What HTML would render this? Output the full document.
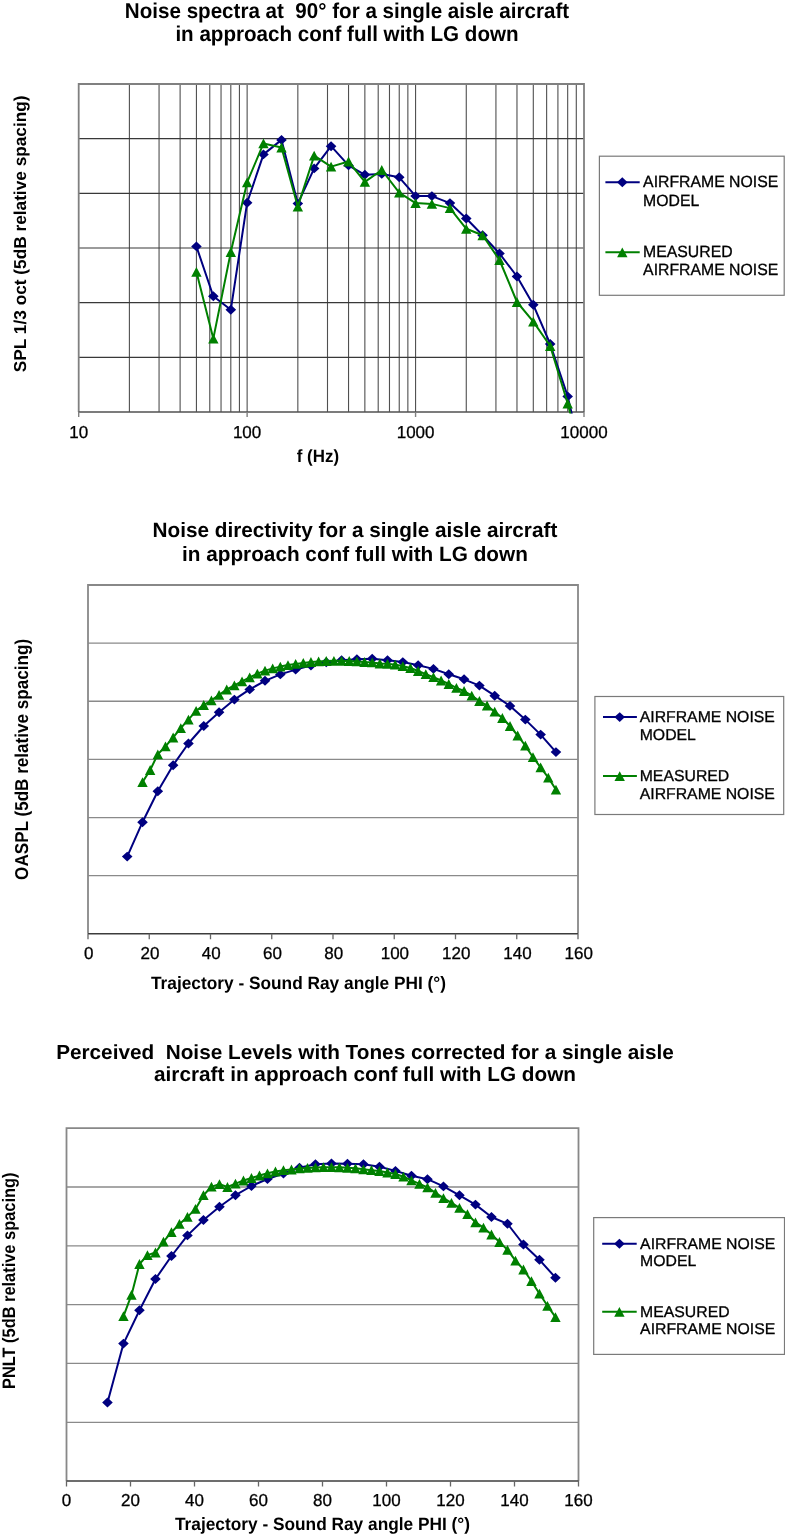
<!DOCTYPE html>
<html><head><meta charset="utf-8"><title>Airframe noise charts</title>
<style>
html,body{margin:0;padding:0;background:#fff;}
body{width:785px;height:1536px;overflow:hidden;}
svg{display:block;} text{text-rendering:geometricPrecision;}
</style></head><body>
<svg width="785" height="1536" viewBox="0 0 785 1536">
<rect width="785" height="1536" fill="#fff"/>
<text transform="translate(347.0 18.0) scale(1 1.045)" font-family="Liberation Sans, Arial, sans-serif" font-weight="bold" font-size="20.6" fill="#000" text-anchor="middle" xml:space="preserve">Noise spectra at  90° for a single aisle aircraft</text><text transform="translate(347.0 41.3) scale(1 1.045)" font-family="Liberation Sans, Arial, sans-serif" font-weight="bold" font-size="20.6" fill="#000" text-anchor="middle" xml:space="preserve">in approach conf full with LG down</text>
<clipPath id="cp1"><rect x="78.7" y="84.0" width="505.3" height="329.6"/></clipPath>
<path d="M129.40 84.0V412.0M159.06 84.0V412.0M180.11 84.0V412.0M196.43 84.0V412.0M209.77 84.0V412.0M221.04 84.0V412.0M230.81 84.0V412.0M239.43 84.0V412.0M247.13 84.0V412.0M297.84 84.0V412.0M327.50 84.0V412.0M348.54 84.0V412.0M364.86 84.0V412.0M378.20 84.0V412.0M389.48 84.0V412.0M399.24 84.0V412.0M407.86 84.0V412.0M415.57 84.0V412.0M466.27 84.0V412.0M495.93 84.0V412.0M516.97 84.0V412.0M533.30 84.0V412.0M546.63 84.0V412.0M557.91 84.0V412.0M567.68 84.0V412.0M576.29 84.0V412.0" stroke="#505050" stroke-width="1.1" fill="none"/>
<path d="M78.7 138.67H584.0M78.7 193.33H584.0M78.7 248.00H584.0M78.7 302.67H584.0M78.7 357.33H584.0" stroke="#383838" stroke-width="1.1" fill="none"/>
<path d="M78.7 412.0V84.0H584.0V412.0" stroke="#808080" stroke-width="1.8" fill="none"/>
<path d="M78.7 412.0H584.0" stroke="#505050" stroke-width="1.6" fill="none"/>
<path d="M78.70 412.0v5M247.13 412.0v5M415.57 412.0v5M584.00 412.0v5" stroke="#808080" stroke-width="1.4" fill="none"/>
<text transform="translate(78.7 438) scale(1 1.02)" font-family="Liberation Sans, Arial, sans-serif" font-size="17.0" fill="#000" text-anchor="middle" stroke="#000" stroke-width="0.3" xml:space="preserve">10</text>
<text transform="translate(247.1 438) scale(1 1.02)" font-family="Liberation Sans, Arial, sans-serif" font-size="17.0" fill="#000" text-anchor="middle" stroke="#000" stroke-width="0.3" xml:space="preserve">100</text>
<text transform="translate(415.6 438) scale(1 1.02)" font-family="Liberation Sans, Arial, sans-serif" font-size="17.0" fill="#000" text-anchor="middle" stroke="#000" stroke-width="0.3" xml:space="preserve">1000</text>
<text transform="translate(584.0 438) scale(1 1.02)" font-family="Liberation Sans, Arial, sans-serif" font-size="17.0" fill="#000" text-anchor="middle" stroke="#000" stroke-width="0.3" xml:space="preserve">10000</text>
<text transform="translate(317.9 462.1) scale(1 1.045)" font-family="Liberation Sans, Arial, sans-serif" font-weight="bold" font-size="16.9" fill="#000" text-anchor="middle" xml:space="preserve">f (Hz)</text>
<text transform="translate(26 233.8) rotate(-90) scale(1 1.0)" font-family="Liberation Sans, Arial, sans-serif" font-weight="bold" font-size="17.25" fill="#000" text-anchor="middle" xml:space="preserve">SPL 1/3 oct (5dB relative spacing)</text>
<path d="M196.4 246.4 L213.3 296.3 L230.8 309.8 L247.1 202.8 L263.5 154.4 L281.5 139.9 L297.8 203.6 L314.2 168.4 L331.1 146.2 L348.5 165.4 L364.9 174.8 L381.8 173.9 L399.2 177.3 L415.6 196.1 L431.9 196.1 L449.9 203.1 L466.3 218.5 L482.6 235.3 L499.5 253.5 L517.0 276.5 L533.3 304.8 L550.2 344.0 L567.7 396.4 L584.0 466.0" fill="none" stroke="#000080" stroke-width="2.0" stroke-linejoin="round" clip-path="url(#cp1)"/>
<path d="M196.43 241.45L201.73 246.40L196.43 251.35L191.13 246.40ZM213.34 291.35L218.64 296.30L213.34 301.25L208.04 296.30ZM230.81 304.85L236.11 309.80L230.81 314.75L225.51 309.80ZM247.13 197.85L252.43 202.80L247.13 207.75L241.83 202.80ZM263.46 149.45L268.76 154.40L263.46 159.35L258.16 154.40ZM281.51 134.95L286.81 139.90L281.51 144.85L276.21 139.90ZM297.84 198.65L303.14 203.60L297.84 208.55L292.54 203.60ZM314.16 163.45L319.46 168.40L314.16 173.35L308.86 168.40ZM331.07 141.25L336.37 146.20L331.07 151.15L325.77 146.20ZM348.54 160.45L353.84 165.40L348.54 170.35L343.24 165.40ZM364.86 169.85L370.16 174.80L364.86 179.75L359.56 174.80ZM381.77 168.95L387.07 173.90L381.77 178.85L376.47 173.90ZM399.24 172.35L404.54 177.30L399.24 182.25L393.94 177.30ZM415.57 191.15L420.87 196.10L415.57 201.05L410.27 196.10ZM431.89 191.15L437.19 196.10L431.89 201.05L426.59 196.10ZM449.95 198.15L455.25 203.10L449.95 208.05L444.65 203.10ZM466.27 213.55L471.57 218.50L466.27 223.45L460.97 218.50ZM482.59 230.35L487.89 235.30L482.59 240.25L477.29 235.30ZM499.50 248.55L504.80 253.50L499.50 258.45L494.20 253.50ZM516.97 271.55L522.27 276.50L516.97 281.45L511.67 276.50ZM533.30 299.85L538.60 304.80L533.30 309.75L528.00 304.80ZM550.20 339.05L555.50 344.00L550.20 348.95L544.90 344.00ZM567.68 391.45L572.98 396.40L567.68 401.35L562.38 396.40Z" fill="#000080"/>
<path d="M196.4 271.8 L213.3 338.6 L230.8 252.0 L247.1 182.4 L263.5 143.4 L281.5 147.5 L297.8 206.6 L314.2 155.7 L331.1 166.6 L348.5 161.5 L364.9 181.9 L381.8 170.0 L399.2 192.7 L415.6 203.1 L431.9 203.9 L449.9 208.1 L466.3 228.8 L482.6 235.3 L499.5 260.0 L517.0 302.0 L533.3 321.6 L550.2 346.0 L567.7 403.5 L584.0 465.0" fill="none" stroke="#008000" stroke-width="2.0" stroke-linejoin="round" clip-path="url(#cp1)"/>
<path d="M196.43 266.90L201.63 276.70L191.23 276.70ZM213.34 333.70L218.54 343.50L208.14 343.50ZM230.81 247.10L236.01 256.90L225.61 256.90ZM247.13 177.50L252.33 187.30L241.93 187.30ZM263.46 138.50L268.66 148.30L258.26 148.30ZM281.51 142.60L286.71 152.40L276.31 152.40ZM297.84 201.70L303.04 211.50L292.64 211.50ZM314.16 150.80L319.36 160.60L308.96 160.60ZM331.07 161.70L336.27 171.50L325.87 171.50ZM348.54 156.60L353.74 166.40L343.34 166.40ZM364.86 177.00L370.06 186.80L359.66 186.80ZM381.77 165.10L386.97 174.90L376.57 174.90ZM399.24 187.80L404.44 197.60L394.04 197.60ZM415.57 198.20L420.77 208.00L410.37 208.00ZM431.89 199.00L437.09 208.80L426.69 208.80ZM449.95 203.20L455.15 213.00L444.75 213.00ZM466.27 223.90L471.47 233.70L461.07 233.70ZM482.59 230.40L487.79 240.20L477.39 240.20ZM499.50 255.10L504.70 264.90L494.30 264.90ZM516.97 297.10L522.17 306.90L511.77 306.90ZM533.30 316.70L538.50 326.50L528.10 326.50ZM550.20 341.10L555.40 350.90L545.00 350.90ZM567.68 398.60L572.88 408.40L562.48 408.40Z" fill="#008000"/>
<rect x="599.4" y="156.2" width="184.8" height="139.1" fill="#fff" stroke="#7a7a7a" stroke-width="1.2"/><line x1="605.4" y1="182.3" x2="639.7" y2="182.3" stroke="#000080" stroke-width="2"/><path d="M622.30 177.35L627.60 182.30L622.30 187.25L617.00 182.30Z" fill="#000080"/><line x1="605.4" y1="252.3" x2="639.7" y2="252.3" stroke="#008000" stroke-width="2"/><path d="M622.30 247.40L627.50 257.20L617.10 257.20Z" fill="#008000"/><text transform="translate(643.1 187.0) scale(1 1.03)" font-family="Liberation Sans, Arial, sans-serif" font-size="15.8" fill="#000" stroke="#000" stroke-width="0.3" xml:space="preserve">AIRFRAME NOISE</text><text transform="translate(643.1 206.0) scale(1 1.03)" font-family="Liberation Sans, Arial, sans-serif" font-size="15.8" fill="#000" stroke="#000" stroke-width="0.3" xml:space="preserve">MODEL</text><text transform="translate(643.1 257.0) scale(1 1.03)" font-family="Liberation Sans, Arial, sans-serif" font-size="15.8" fill="#000" stroke="#000" stroke-width="0.3" xml:space="preserve">MEASURED</text><text transform="translate(643.1 275.4) scale(1 1.03)" font-family="Liberation Sans, Arial, sans-serif" font-size="15.8" fill="#000" stroke="#000" stroke-width="0.3" xml:space="preserve">AIRFRAME NOISE</text>
<text transform="translate(354.9 537.3) scale(1 1.0)" font-family="Liberation Sans, Arial, sans-serif" font-weight="bold" font-size="20.75" fill="#000" text-anchor="middle" xml:space="preserve">Noise directivity for a single aisle aircraft</text><text transform="translate(354.9 560.8) scale(1 1.0)" font-family="Liberation Sans, Arial, sans-serif" font-weight="bold" font-size="20.75" fill="#000" text-anchor="middle" xml:space="preserve">in approach conf full with LG down</text>
<path d="M88.0 643.13H578.0M88.0 701.27H578.0M88.0 759.40H578.0M88.0 817.53H578.0M88.0 875.67H578.0" stroke="#8a8a8a" stroke-width="1.3" fill="none"/>
<path d="M88.0 933.8V585.0H578.0V933.8" stroke="#888" stroke-width="1.8" fill="none"/>
<path d="M88.0 933.8H578.0" stroke="#3c3c3c" stroke-width="1.5" fill="none"/>
<path d="M88.00 933.8v5.5M149.25 933.8v5.5M210.50 933.8v5.5M271.75 933.8v5.5M333.00 933.8v5.5M394.25 933.8v5.5M455.50 933.8v5.5M516.75 933.8v5.5M578.00 933.8v5.5" stroke="#666" stroke-width="1.3" fill="none"/>
<text transform="translate(88.7 959.0) scale(1 1.02)" font-family="Liberation Sans, Arial, sans-serif" font-size="17.0" fill="#000" text-anchor="middle" stroke="#000" stroke-width="0.3" xml:space="preserve">0</text>
<text transform="translate(149.9 959.0) scale(1 1.02)" font-family="Liberation Sans, Arial, sans-serif" font-size="17.0" fill="#000" text-anchor="middle" stroke="#000" stroke-width="0.3" xml:space="preserve">20</text>
<text transform="translate(211.2 959.0) scale(1 1.02)" font-family="Liberation Sans, Arial, sans-serif" font-size="17.0" fill="#000" text-anchor="middle" stroke="#000" stroke-width="0.3" xml:space="preserve">40</text>
<text transform="translate(272.4 959.0) scale(1 1.02)" font-family="Liberation Sans, Arial, sans-serif" font-size="17.0" fill="#000" text-anchor="middle" stroke="#000" stroke-width="0.3" xml:space="preserve">60</text>
<text transform="translate(333.7 959.0) scale(1 1.02)" font-family="Liberation Sans, Arial, sans-serif" font-size="17.0" fill="#000" text-anchor="middle" stroke="#000" stroke-width="0.3" xml:space="preserve">80</text>
<text transform="translate(394.9 959.0) scale(1 1.02)" font-family="Liberation Sans, Arial, sans-serif" font-size="17.0" fill="#000" text-anchor="middle" stroke="#000" stroke-width="0.3" xml:space="preserve">100</text>
<text transform="translate(456.2 959.0) scale(1 1.02)" font-family="Liberation Sans, Arial, sans-serif" font-size="17.0" fill="#000" text-anchor="middle" stroke="#000" stroke-width="0.3" xml:space="preserve">120</text>
<text transform="translate(517.5 959.0) scale(1 1.02)" font-family="Liberation Sans, Arial, sans-serif" font-size="17.0" fill="#000" text-anchor="middle" stroke="#000" stroke-width="0.3" xml:space="preserve">140</text>
<text transform="translate(578.7 959.0) scale(1 1.02)" font-family="Liberation Sans, Arial, sans-serif" font-size="17.0" fill="#000" text-anchor="middle" stroke="#000" stroke-width="0.3" xml:space="preserve">160</text>
<text transform="translate(298.5 988.9) scale(1 1.03)" font-family="Liberation Sans, Arial, sans-serif" font-weight="bold" font-size="17.3" fill="#000" text-anchor="middle" xml:space="preserve">Trajectory - Sound Ray angle PHI (°)</text>
<text transform="translate(28.3 759.4) rotate(-90) scale(1 1.09)" font-family="Liberation Sans, Arial, sans-serif" font-weight="bold" font-size="17.1" fill="#000" text-anchor="middle" xml:space="preserve">OASPL (5dB relative spacing)</text>
<path d="M127.2 856.6 L142.5 822.2 L157.8 791.3 L173.1 765.2 L188.4 743.5 L203.8 726.0 L219.1 712.3 L234.4 699.6 L249.7 689.4 L265.0 680.8 L280.3 674.4 L295.6 669.6 L310.9 665.5 L326.3 662.3 L341.6 660.2 L356.9 659.3 L372.2 658.8 L387.5 660.3 L402.8 662.1 L418.1 665.3 L433.4 668.9 L448.8 674.2 L464.1 679.3 L479.4 685.6 L494.7 695.7 L510.0 705.9 L525.3 719.6 L540.6 734.6 L556.0 752.1" fill="none" stroke="#000080" stroke-width="2" stroke-linejoin="round"/>
<path d="M127.20 851.65L132.50 856.60L127.20 861.55L121.90 856.60ZM142.51 817.25L147.81 822.20L142.51 827.15L137.21 822.20ZM157.82 786.35L163.12 791.30L157.82 796.25L152.52 791.30ZM173.14 760.25L178.44 765.20L173.14 770.15L167.84 765.20ZM188.45 738.55L193.75 743.50L188.45 748.45L183.15 743.50ZM203.76 721.05L209.06 726.00L203.76 730.95L198.46 726.00ZM219.07 707.35L224.38 712.30L219.07 717.25L213.77 712.30ZM234.39 694.65L239.69 699.60L234.39 704.55L229.09 699.60ZM249.70 684.45L255.00 689.40L249.70 694.35L244.40 689.40ZM265.01 675.85L270.31 680.80L265.01 685.75L259.71 680.80ZM280.32 669.45L285.62 674.40L280.32 679.35L275.02 674.40ZM295.64 664.65L300.94 669.60L295.64 674.55L290.34 669.60ZM310.95 660.55L316.25 665.50L310.95 670.45L305.65 665.50ZM326.26 657.35L331.56 662.30L326.26 667.25L320.96 662.30ZM341.57 655.25L346.88 660.20L341.57 665.15L336.27 660.20ZM356.89 654.35L362.19 659.30L356.89 664.25L351.59 659.30ZM372.20 653.85L377.50 658.80L372.20 663.75L366.90 658.80ZM387.51 655.35L392.81 660.30L387.51 665.25L382.21 660.30ZM402.82 657.15L408.12 662.10L402.82 667.05L397.52 662.10ZM418.14 660.35L423.44 665.30L418.14 670.25L412.84 665.30ZM433.45 663.95L438.75 668.90L433.45 673.85L428.15 668.90ZM448.76 669.25L454.06 674.20L448.76 679.15L443.46 674.20ZM464.07 674.35L469.38 679.30L464.07 684.25L458.77 679.30ZM479.39 680.65L484.69 685.60L479.39 690.55L474.09 685.60ZM494.70 690.75L500.00 695.70L494.70 700.65L489.40 695.70ZM510.01 700.95L515.31 705.90L510.01 710.85L504.71 705.90ZM525.33 714.65L530.62 719.60L525.33 724.55L520.03 719.60ZM540.64 729.65L545.94 734.60L540.64 739.55L535.34 734.60ZM555.95 747.15L561.25 752.10L555.95 757.05L550.65 752.10Z" fill="#000080"/>
<path d="M142.5 782.1 L150.2 770.0 L157.8 754.3 L165.5 746.4 L173.1 737.5 L180.8 728.2 L188.4 719.7 L196.1 710.8 L203.8 705.0 L211.4 700.3 L219.1 694.8 L226.7 689.5 L234.4 685.3 L242.0 681.3 L249.7 677.3 L257.4 673.6 L265.0 670.6 L272.7 668.4 L280.3 666.6 L288.0 665.1 L295.6 663.9 L303.3 662.9 L310.9 662.0 L318.6 661.4 L326.3 661.0 L333.9 660.8 L341.6 660.8 L349.2 661.0 L356.9 661.4 L364.5 662.0 L372.2 662.4 L379.9 663.5 L387.5 663.8 L395.2 664.7 L402.8 666.1 L410.5 668.0 L418.1 671.0 L425.8 674.2 L433.4 677.2 L441.1 680.5 L448.8 684.0 L456.4 687.8 L464.1 691.0 L471.7 695.6 L479.4 701.0 L487.0 705.5 L494.7 711.7 L502.4 718.0 L510.0 726.0 L517.7 735.5 L525.3 745.7 L533.0 757.2 L540.6 767.4 L548.3 777.6 L556.0 789.7" fill="none" stroke="#008000" stroke-width="2" stroke-linejoin="round"/>
<path d="M142.51 777.20L147.71 787.00L137.31 787.00ZM150.17 765.10L155.37 774.90L144.97 774.90ZM157.82 749.40L163.02 759.20L152.62 759.20ZM165.48 741.50L170.68 751.30L160.28 751.30ZM173.14 732.60L178.34 742.40L167.94 742.40ZM180.79 723.30L185.99 733.10L175.59 733.10ZM188.45 714.80L193.65 724.60L183.25 724.60ZM196.11 705.90L201.31 715.70L190.91 715.70ZM203.76 700.10L208.96 709.90L198.56 709.90ZM211.42 695.40L216.62 705.20L206.22 705.20ZM219.07 689.90L224.27 699.70L213.88 699.70ZM226.73 684.60L231.93 694.40L221.53 694.40ZM234.39 680.40L239.59 690.20L229.19 690.20ZM242.04 676.40L247.24 686.20L236.84 686.20ZM249.70 672.40L254.90 682.20L244.50 682.20ZM257.36 668.70L262.56 678.50L252.16 678.50ZM265.01 665.70L270.21 675.50L259.81 675.50ZM272.67 663.50L277.87 673.30L267.47 673.30ZM280.32 661.70L285.52 671.50L275.12 671.50ZM287.98 660.20L293.18 670.00L282.78 670.00ZM295.64 659.00L300.84 668.80L290.44 668.80ZM303.29 658.00L308.49 667.80L298.09 667.80ZM310.95 657.10L316.15 666.90L305.75 666.90ZM318.61 656.50L323.81 666.30L313.41 666.30ZM326.26 656.10L331.46 665.90L321.06 665.90ZM333.92 655.90L339.12 665.70L328.72 665.70ZM341.57 655.90L346.77 665.70L336.38 665.70ZM349.23 656.10L354.43 665.90L344.03 665.90ZM356.89 656.50L362.09 666.30L351.69 666.30ZM364.54 657.10L369.74 666.90L359.34 666.90ZM372.20 657.50L377.40 667.30L367.00 667.30ZM379.86 658.60L385.06 668.40L374.66 668.40ZM387.51 658.90L392.71 668.70L382.31 668.70ZM395.17 659.80L400.37 669.60L389.97 669.60ZM402.82 661.20L408.02 671.00L397.62 671.00ZM410.48 663.10L415.68 672.90L405.28 672.90ZM418.14 666.10L423.34 675.90L412.94 675.90ZM425.79 669.30L430.99 679.10L420.59 679.10ZM433.45 672.30L438.65 682.10L428.25 682.10ZM441.11 675.60L446.31 685.40L435.91 685.40ZM448.76 679.10L453.96 688.90L443.56 688.90ZM456.42 682.90L461.62 692.70L451.22 692.70ZM464.07 686.10L469.27 695.90L458.88 695.90ZM471.73 690.70L476.93 700.50L466.53 700.50ZM479.39 696.10L484.59 705.90L474.19 705.90ZM487.04 700.60L492.24 710.40L481.84 710.40ZM494.70 706.80L499.90 716.60L489.50 716.60ZM502.36 713.10L507.56 722.90L497.16 722.90ZM510.01 721.10L515.21 730.90L504.81 730.90ZM517.67 730.60L522.87 740.40L512.47 740.40ZM525.33 740.80L530.53 750.60L520.12 750.60ZM532.98 752.30L538.18 762.10L527.78 762.10ZM540.64 762.50L545.84 772.30L535.44 772.30ZM548.29 772.70L553.49 782.50L543.09 782.50ZM555.95 784.80L561.15 794.60L550.75 794.60Z" fill="#008000"/>
<rect x="594.9" y="696.5" width="188.8" height="118.0" fill="#fff" stroke="#7a7a7a" stroke-width="1.2"/><line x1="603" y1="717.1" x2="636.9" y2="717.1" stroke="#000080" stroke-width="2"/><path d="M619.70 712.15L625.00 717.10L619.70 722.05L614.40 717.10Z" fill="#000080"/><line x1="603" y1="776.1" x2="636.9" y2="776.1" stroke="#008000" stroke-width="2"/><path d="M619.70 771.20L624.90 781.00L614.50 781.00Z" fill="#008000"/><text transform="translate(639.7 721.8) scale(1 1.0)" font-family="Liberation Sans, Arial, sans-serif" font-size="15.8" fill="#000" stroke="#000" stroke-width="0.3" xml:space="preserve">AIRFRAME NOISE</text><text transform="translate(639.7 740.1) scale(1 1.0)" font-family="Liberation Sans, Arial, sans-serif" font-size="15.8" fill="#000" stroke="#000" stroke-width="0.3" xml:space="preserve">MODEL</text><text transform="translate(639.7 780.5) scale(1 1.0)" font-family="Liberation Sans, Arial, sans-serif" font-size="15.8" fill="#000" stroke="#000" stroke-width="0.3" xml:space="preserve">MEASURED</text><text transform="translate(639.7 798.8) scale(1 1.0)" font-family="Liberation Sans, Arial, sans-serif" font-size="15.8" fill="#000" stroke="#000" stroke-width="0.3" xml:space="preserve">AIRFRAME NOISE</text>
<text transform="translate(365.0 1058.9) scale(1 0.98)" font-family="Liberation Sans, Arial, sans-serif" font-weight="bold" font-size="20.75" fill="#000" text-anchor="middle" xml:space="preserve">Perceived  Noise Levels with Tones corrected for a single aisle</text><text transform="translate(365.0 1081.4) scale(1 0.98)" font-family="Liberation Sans, Arial, sans-serif" font-weight="bold" font-size="20.75" fill="#000" text-anchor="middle" xml:space="preserve">aircraft in approach conf full with LG down</text>
<path d="M66.5 1187.02H578.5M66.5 1245.83H578.5M66.5 1304.65H578.5M66.5 1363.47H578.5M66.5 1422.28H578.5" stroke="#8a8a8a" stroke-width="1.3" fill="none"/>
<path d="M66.5 1481.1V1128.2H578.5V1481.1" stroke="#888" stroke-width="1.8" fill="none"/>
<path d="M66.5 1481.1H578.5" stroke="#3c3c3c" stroke-width="1.5" fill="none"/>
<path d="M66.50 1481.1v5.5M130.50 1481.1v5.5M194.50 1481.1v5.5M258.50 1481.1v5.5M322.50 1481.1v5.5M386.50 1481.1v5.5M450.50 1481.1v5.5M514.50 1481.1v5.5M578.50 1481.1v5.5" stroke="#666" stroke-width="1.3" fill="none"/>
<text transform="translate(66.5 1505.8) scale(1 1.02)" font-family="Liberation Sans, Arial, sans-serif" font-size="17.0" fill="#000" text-anchor="middle" stroke="#000" stroke-width="0.3" xml:space="preserve">0</text>
<text transform="translate(130.5 1505.8) scale(1 1.02)" font-family="Liberation Sans, Arial, sans-serif" font-size="17.0" fill="#000" text-anchor="middle" stroke="#000" stroke-width="0.3" xml:space="preserve">20</text>
<text transform="translate(194.5 1505.8) scale(1 1.02)" font-family="Liberation Sans, Arial, sans-serif" font-size="17.0" fill="#000" text-anchor="middle" stroke="#000" stroke-width="0.3" xml:space="preserve">40</text>
<text transform="translate(258.5 1505.8) scale(1 1.02)" font-family="Liberation Sans, Arial, sans-serif" font-size="17.0" fill="#000" text-anchor="middle" stroke="#000" stroke-width="0.3" xml:space="preserve">60</text>
<text transform="translate(322.5 1505.8) scale(1 1.02)" font-family="Liberation Sans, Arial, sans-serif" font-size="17.0" fill="#000" text-anchor="middle" stroke="#000" stroke-width="0.3" xml:space="preserve">80</text>
<text transform="translate(386.5 1505.8) scale(1 1.02)" font-family="Liberation Sans, Arial, sans-serif" font-size="17.0" fill="#000" text-anchor="middle" stroke="#000" stroke-width="0.3" xml:space="preserve">100</text>
<text transform="translate(450.5 1505.8) scale(1 1.02)" font-family="Liberation Sans, Arial, sans-serif" font-size="17.0" fill="#000" text-anchor="middle" stroke="#000" stroke-width="0.3" xml:space="preserve">120</text>
<text transform="translate(514.5 1505.8) scale(1 1.02)" font-family="Liberation Sans, Arial, sans-serif" font-size="17.0" fill="#000" text-anchor="middle" stroke="#000" stroke-width="0.3" xml:space="preserve">140</text>
<text transform="translate(578.5 1505.8) scale(1 1.02)" font-family="Liberation Sans, Arial, sans-serif" font-size="17.0" fill="#000" text-anchor="middle" stroke="#000" stroke-width="0.3" xml:space="preserve">160</text>
<text transform="translate(322.5 1529.8) scale(1 1.03)" font-family="Liberation Sans, Arial, sans-serif" font-weight="bold" font-size="17.3" fill="#000" text-anchor="middle" xml:space="preserve">Trajectory - Sound Ray angle PHI (°)</text>
<text transform="translate(14.8 1280.8) rotate(-90) scale(1 1.1)" font-family="Liberation Sans, Arial, sans-serif" font-weight="bold" font-size="16.4" fill="#000" text-anchor="middle" xml:space="preserve">PNLT (5dB relative spacing)</text>
<path d="M107.5 1402.5 L123.5 1343.6 L139.5 1310.2 L155.5 1279.0 L171.5 1256.0 L187.5 1235.4 L203.5 1220.0 L219.5 1206.7 L235.5 1195.2 L251.5 1186.0 L267.5 1179.0 L283.5 1173.5 L299.5 1167.8 L315.5 1164.3 L331.5 1163.5 L347.5 1163.8 L363.5 1164.2 L379.5 1166.8 L395.5 1170.9 L411.5 1175.7 L427.5 1179.2 L443.5 1186.4 L459.5 1195.3 L475.5 1204.6 L491.5 1217.0 L507.5 1223.8 L523.5 1244.5 L539.5 1259.8 L555.5 1277.7" fill="none" stroke="#000080" stroke-width="2" stroke-linejoin="round"/>
<path d="M107.46 1397.55L112.76 1402.50L107.46 1407.45L102.16 1402.50ZM123.46 1338.65L128.76 1343.60L123.46 1348.55L118.16 1343.60ZM139.46 1305.25L144.76 1310.20L139.46 1315.15L134.16 1310.20ZM155.46 1274.05L160.76 1279.00L155.46 1283.95L150.16 1279.00ZM171.46 1251.05L176.76 1256.00L171.46 1260.95L166.16 1256.00ZM187.46 1230.45L192.76 1235.40L187.46 1240.35L182.16 1235.40ZM203.46 1215.05L208.76 1220.00L203.46 1224.95L198.16 1220.00ZM219.46 1201.75L224.76 1206.70L219.46 1211.65L214.16 1206.70ZM235.46 1190.25L240.76 1195.20L235.46 1200.15L230.16 1195.20ZM251.46 1181.05L256.76 1186.00L251.46 1190.95L246.16 1186.00ZM267.46 1174.05L272.76 1179.00L267.46 1183.95L262.16 1179.00ZM283.46 1168.55L288.76 1173.50L283.46 1178.45L278.16 1173.50ZM299.46 1162.85L304.76 1167.80L299.46 1172.75L294.16 1167.80ZM315.46 1159.35L320.76 1164.30L315.46 1169.25L310.16 1164.30ZM331.46 1158.55L336.76 1163.50L331.46 1168.45L326.16 1163.50ZM347.46 1158.85L352.76 1163.80L347.46 1168.75L342.16 1163.80ZM363.46 1159.25L368.76 1164.20L363.46 1169.15L358.16 1164.20ZM379.46 1161.85L384.76 1166.80L379.46 1171.75L374.16 1166.80ZM395.46 1165.95L400.76 1170.90L395.46 1175.85L390.16 1170.90ZM411.46 1170.75L416.76 1175.70L411.46 1180.65L406.16 1175.70ZM427.46 1174.25L432.76 1179.20L427.46 1184.15L422.16 1179.20ZM443.46 1181.45L448.76 1186.40L443.46 1191.35L438.16 1186.40ZM459.46 1190.35L464.76 1195.30L459.46 1200.25L454.16 1195.30ZM475.46 1199.65L480.76 1204.60L475.46 1209.55L470.16 1204.60ZM491.46 1212.05L496.76 1217.00L491.46 1221.95L486.16 1217.00ZM507.46 1218.85L512.76 1223.80L507.46 1228.75L502.16 1223.80ZM523.46 1239.55L528.76 1244.50L523.46 1249.45L518.16 1244.50ZM539.46 1254.85L544.76 1259.80L539.46 1264.75L534.16 1259.80ZM555.46 1272.75L560.76 1277.70L555.46 1282.65L550.16 1277.70Z" fill="#000080"/>
<path d="M123.5 1316.2 L131.5 1294.9 L139.5 1264.0 L147.5 1255.1 L155.5 1252.5 L163.5 1241.7 L171.5 1232.2 L179.5 1223.9 L187.5 1216.9 L195.5 1208.9 L203.5 1195.2 L211.5 1186.6 L219.5 1184.1 L227.5 1187.0 L235.5 1183.6 L243.5 1180.5 L251.5 1178.0 L259.5 1175.5 L267.5 1173.3 L275.5 1171.5 L283.5 1170.2 L291.5 1169.5 L299.5 1168.4 L307.5 1167.9 L315.5 1167.4 L323.5 1167.2 L331.5 1167.2 L339.5 1167.3 L347.5 1167.8 L355.5 1168.3 L363.5 1169.3 L371.5 1170.2 L379.5 1171.0 L387.5 1172.5 L395.5 1174.0 L403.5 1176.7 L411.5 1180.3 L419.5 1183.9 L427.5 1187.4 L435.5 1192.8 L443.5 1198.1 L451.5 1202.8 L459.5 1207.8 L467.5 1214.2 L475.5 1222.4 L483.5 1227.7 L491.5 1234.5 L499.5 1242.0 L507.5 1249.9 L515.5 1260.6 L523.5 1269.5 L531.5 1281.2 L539.5 1293.7 L547.5 1305.8 L555.5 1317.1" fill="none" stroke="#008000" stroke-width="2" stroke-linejoin="round"/>
<path d="M123.46 1311.30L128.66 1321.10L118.26 1321.10ZM131.46 1290.00L136.66 1299.80L126.26 1299.80ZM139.46 1259.10L144.66 1268.90L134.26 1268.90ZM147.46 1250.20L152.66 1260.00L142.26 1260.00ZM155.46 1247.60L160.66 1257.40L150.26 1257.40ZM163.46 1236.80L168.66 1246.60L158.26 1246.60ZM171.46 1227.30L176.66 1237.10L166.26 1237.10ZM179.46 1219.00L184.66 1228.80L174.26 1228.80ZM187.46 1212.00L192.66 1221.80L182.26 1221.80ZM195.46 1204.00L200.66 1213.80L190.26 1213.80ZM203.46 1190.30L208.66 1200.10L198.26 1200.10ZM211.46 1181.70L216.66 1191.50L206.26 1191.50ZM219.46 1179.20L224.66 1189.00L214.26 1189.00ZM227.46 1182.10L232.66 1191.90L222.26 1191.90ZM235.46 1178.70L240.66 1188.50L230.26 1188.50ZM243.46 1175.60L248.66 1185.40L238.26 1185.40ZM251.46 1173.10L256.66 1182.90L246.26 1182.90ZM259.46 1170.60L264.66 1180.40L254.26 1180.40ZM267.46 1168.40L272.66 1178.20L262.26 1178.20ZM275.46 1166.60L280.66 1176.40L270.26 1176.40ZM283.46 1165.30L288.66 1175.10L278.26 1175.10ZM291.46 1164.60L296.66 1174.40L286.26 1174.40ZM299.46 1163.50L304.66 1173.30L294.26 1173.30ZM307.46 1163.00L312.66 1172.80L302.26 1172.80ZM315.46 1162.50L320.66 1172.30L310.26 1172.30ZM323.46 1162.30L328.66 1172.10L318.26 1172.10ZM331.46 1162.30L336.66 1172.10L326.26 1172.10ZM339.46 1162.40L344.66 1172.20L334.26 1172.20ZM347.46 1162.90L352.66 1172.70L342.26 1172.70ZM355.46 1163.40L360.66 1173.20L350.26 1173.20ZM363.46 1164.40L368.66 1174.20L358.26 1174.20ZM371.46 1165.30L376.66 1175.10L366.26 1175.10ZM379.46 1166.10L384.66 1175.90L374.26 1175.90ZM387.46 1167.60L392.66 1177.40L382.26 1177.40ZM395.46 1169.10L400.66 1178.90L390.26 1178.90ZM403.46 1171.80L408.66 1181.60L398.26 1181.60ZM411.46 1175.40L416.66 1185.20L406.26 1185.20ZM419.46 1179.00L424.66 1188.80L414.26 1188.80ZM427.46 1182.50L432.66 1192.30L422.26 1192.30ZM435.46 1187.90L440.66 1197.70L430.26 1197.70ZM443.46 1193.20L448.66 1203.00L438.26 1203.00ZM451.46 1197.90L456.66 1207.70L446.26 1207.70ZM459.46 1202.90L464.66 1212.70L454.26 1212.70ZM467.46 1209.30L472.66 1219.10L462.26 1219.10ZM475.46 1217.50L480.66 1227.30L470.26 1227.30ZM483.46 1222.80L488.66 1232.60L478.26 1232.60ZM491.46 1229.60L496.66 1239.40L486.26 1239.40ZM499.46 1237.10L504.66 1246.90L494.26 1246.90ZM507.46 1245.00L512.66 1254.80L502.26 1254.80ZM515.46 1255.70L520.66 1265.50L510.26 1265.50ZM523.46 1264.60L528.66 1274.40L518.26 1274.40ZM531.46 1276.30L536.66 1286.10L526.26 1286.10ZM539.46 1288.80L544.66 1298.60L534.26 1298.60ZM547.46 1300.90L552.66 1310.70L542.26 1310.70ZM555.46 1312.20L560.66 1322.00L550.26 1322.00Z" fill="#008000"/>
<rect x="593.7" y="1217.6" width="190.8" height="136.8" fill="#fff" stroke="#7a7a7a" stroke-width="1.2"/><line x1="602.2" y1="1243.7" x2="636.7" y2="1243.7" stroke="#000080" stroke-width="2"/><path d="M619.40 1238.75L624.70 1243.70L619.40 1248.65L614.10 1243.70Z" fill="#000080"/><line x1="602.2" y1="1311.8" x2="636.7" y2="1311.8" stroke="#008000" stroke-width="2"/><path d="M619.40 1306.90L624.60 1316.70L614.20 1316.70Z" fill="#008000"/><text transform="translate(640.1 1248.8) scale(1 0.98)" font-family="Liberation Sans, Arial, sans-serif" font-size="15.8" fill="#000" stroke="#000" stroke-width="0.3" xml:space="preserve">AIRFRAME NOISE</text><text transform="translate(640.1 1265.9) scale(1 0.98)" font-family="Liberation Sans, Arial, sans-serif" font-size="15.8" fill="#000" stroke="#000" stroke-width="0.3" xml:space="preserve">MODEL</text><text transform="translate(640.1 1317.1) scale(1 0.98)" font-family="Liberation Sans, Arial, sans-serif" font-size="15.8" fill="#000" stroke="#000" stroke-width="0.3" xml:space="preserve">MEASURED</text><text transform="translate(640.1 1334.4) scale(1 0.98)" font-family="Liberation Sans, Arial, sans-serif" font-size="15.8" fill="#000" stroke="#000" stroke-width="0.3" xml:space="preserve">AIRFRAME NOISE</text>
</svg>
</body></html>
